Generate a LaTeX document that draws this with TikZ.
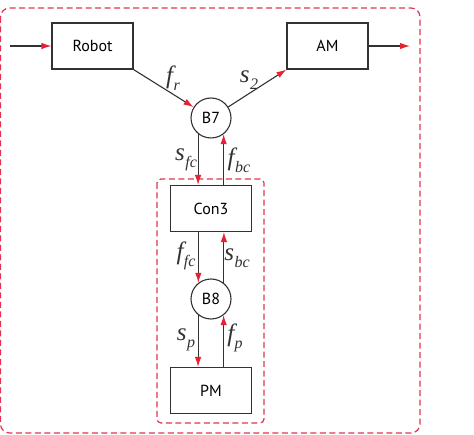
\documentclass[tikz,border=0pt]{standalone}
\usepackage{fontspec}
\newfontfamily\labfont{PT Sans}
\newfontfamily\tmsfont{Liberation Serif}
\usetikzlibrary{arrows.meta,calc}
\definecolor{tipred}{RGB}{232,32,52}
\definecolor{dashred}{RGB}{226,52,82}
\definecolor{linegray}{RGB}{50,50,50}
\newcommand\mlab[2]{{\tmsfont\itshape\fontsize{25}{28}\selectfont #1\kern0.5pt\raisebox{-0.28em}{\fontsize{16}{18}\selectfont #2}}}
\tikzset{
  blk/.style={draw=linegray,line width=1.1pt,minimum width=81pt,minimum height=46pt,inner sep=0pt,font=\labfont\fontsize{16}{18}\selectfont},
  junc/.style={circle,draw=linegray,line width=1.1pt,minimum size=40pt,inner sep=0pt,font=\labfont\fontsize{16}{18}\selectfont},
  arr/.style={draw=linegray,line width=1.1pt,-{Latex[length=10pt,width=6.5pt,color=tipred]}},
  lbl/.style={inner sep=0pt,text=linegray},
  outline/.style={draw=dashred,line width=1.2pt,dash pattern=on 6pt off 3.5pt}
}
\begin{document}
\begin{tikzpicture}[x=1pt,y=-1pt]
\useasboundingbox (0,0) rectangle (474,435);
\draw[outline,rounded corners=9pt] (0.5,8) rectangle (420,433);
\draw[outline,rounded corners=4pt] (157,179) rectangle (264,423);
\node[blk] (Robot) at (92.5,46) {Robot};
\node[blk] (AM) at (327.5,46) {AM};
\node[junc] (B7) at (211,118) {B7};
\node[blk] (Con3) at (211,208.5) {Con3};
\node[junc] (B8) at (211,299) {B8};
\node[blk] (PM) at (211,390.5) {PM};
\coordinate (in) at (10,46);
\coordinate (out) at (410,46);
\draw[arr] (in) -- (Robot.west);
\draw[arr] (AM.east) -- (out);
\draw[arr] (Robot.south east) -- (B7);
\draw[arr] (B7) -- (AM.south west);
\draw[arr] (B7.231.3) -- (B7.231.3 |- Con3.north);
\draw[arr] (Con3.north -| B7.308.7) -- (B7.308.7);
\draw[arr] (Con3.south -| B8.128.7) -- (B8.128.7);
\draw[arr] (B8.51.3) -- (B8.51.3 |- Con3.south);
\draw[arr] (B8.231.3) -- (B8.231.3 |- PM.north);
\draw[arr] (PM.north -| B8.308.7) -- (B8.308.7);
\node[lbl] (lfr) at (173,78) {\mlab{f}{r}};
\node[lbl] (ls2) at (249,80) {\mlab{s}{2}};
\node[lbl] (lsfc) at (186,160) {\mlab{s}{fc}};
\node[lbl] (lfbc) at (239,160) {\mlab{f}{bc}};
\node[lbl] (lffc) at (186,256) {\mlab{f}{fc}};
\node[lbl] (lsbc) at (237,258) {\mlab{s}{bc}};
\node[lbl] (lsp) at (186,340) {\mlab{s}{p}};
\node[lbl] (lfp) at (235,338) {\mlab{f}{p}};
\end{tikzpicture}
\end{document}
